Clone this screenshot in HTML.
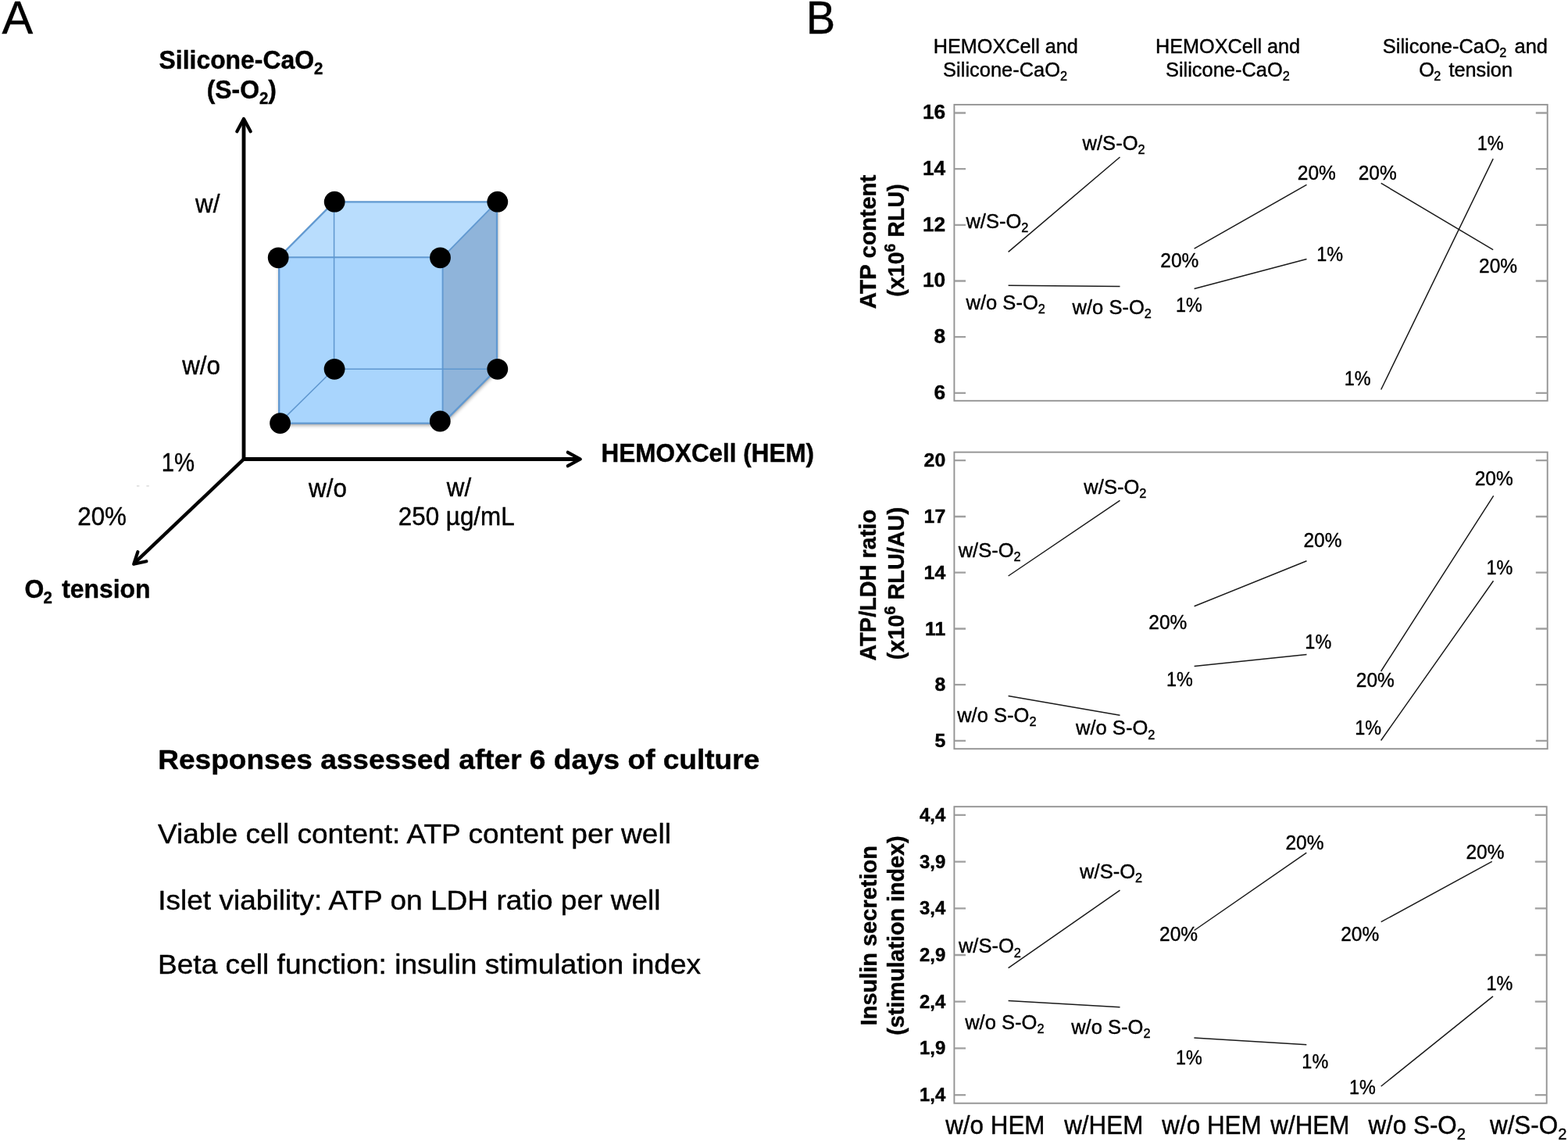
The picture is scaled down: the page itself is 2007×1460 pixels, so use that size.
<!DOCTYPE html>
<html lang="en"><head><meta charset="utf-8"><title>Figure</title>
<style>
html,body{margin:0;padding:0;background:#fff;}
body{width:2007px;height:1460px;overflow:hidden;}
svg{display:block;font-family:"Liberation Sans",sans-serif;fill:#000;}
text{white-space:pre;stroke:#000;stroke-width:0.42px;stroke-linejoin:round;}
.fr{fill:none;stroke:#939393;stroke-width:1.9;}
.tk{stroke:#a0a0a0;stroke-width:2.3;fill:none;}
.dl{stroke:#1a1a1a;stroke-width:1.5;fill:none;stroke-linecap:butt;}
.ax{stroke:#000;stroke-width:4.8;fill:none;stroke-linejoin:miter;stroke-linecap:butt;}
.ah{stroke:#000;stroke-width:4.2;fill:none;stroke-linejoin:round;stroke-linecap:round;}
.ce{stroke:#6199d1;stroke-width:2.3;fill:none;stroke-linejoin:round;}
.tl{font-weight:bold;font-size:26.3px;text-anchor:end;}
.yl{font-weight:bold;font-size:29px;text-anchor:middle;}
</style></head><body>
<svg width="2007" height="1460" viewBox="0 0 2007 1460" xml:space="preserve">
<defs>
<filter id="sh" x="-20%" y="-20%" width="140%" height="140%"><feGaussianBlur stdDeviation="2.6"/></filter>
</defs>
<rect x="0" y="0" width="2007" height="1460" fill="#fff"/>

<g id="cube">
<polygon points="357.8,331.7 428.2,261.1 636.6,261.1 636.6,474.8 567.2,544.1 357.8,544.1" fill="#000" opacity="0.42" filter="url(#sh)"/>
<polygon points="357.2,329.2 427.6,258.4 636.0,258.4 566.6,329.2" fill="#b9ddfd"/>
<polygon points="357.2,329.2 566.6,329.2 566.6,541.6 357.2,541.6" fill="#a9d5fd"/>
<polygon points="566.6,329.2 636.0,258.4 636.0,472.3 566.6,541.6" fill="#8fb4da"/>
<path class="ce" d="M357.2,329.2 L427.6,258.4 L636.0,258.4 L636.0,472.3 L566.6,541.6 L357.2,541.6 Z"/>
<path class="ce" style="stroke-width:1.9" d="M357.2,329.2 L566.6,329.2 L566.6,541.6 M566.6,329.2 L636.0,258.4"/>
<path class="ce" style="stroke-width:1.5;stroke:#5f97cf" d="M427.6,258.4 L427.6,472.3 L636.0,472.3 M427.6,472.3 L357.2,541.6"/>
<circle cx="428.2" cy="258.2" r="13.4" fill="#000"/>
<circle cx="636.8" cy="258.2" r="13.4" fill="#000"/>
<circle cx="356.2" cy="329.8" r="13.4" fill="#000"/>
<circle cx="563.5" cy="329.8" r="13.4" fill="#000"/>
<circle cx="428.1" cy="472.3" r="13.4" fill="#000"/>
<circle cx="636.8" cy="472.3" r="13.4" fill="#000"/>
<circle cx="358.6" cy="541.6" r="13.4" fill="#000"/>
<circle cx="563.3" cy="539.0" r="13.4" fill="#000"/>
</g>
<g id="axes">
<path class="ax" d="M312,153 L312,587.5 L742,587.5"/>
<path class="ax" style="stroke-width:4.4" d="M312.4,587.2 L172.5,720.2"/>
<path d="M175,621.9 h3.4 M187.4,621.9 h3.4" stroke="#d4d4d4" stroke-width="1.2" fill="none"/>
<path class="ah" d="M303.3,168.2 L312,152 L320.7,168.2"/>
<path class="ah" d="M726.8,578.8 L742.8,587.5 L726.8,596.2"/>
<path class="ah" d="M176.4,706.2 L171.2,721.8 L187.4,718.2"/>
</g>
<rect class="fr" x="1221.4" y="133.89999999999998" width="759.3" height="378.9"/>
<path class="tk" d="M1222,144.5 h14 M1980.4,144.5 h-14.6 M1222,216.2 h14 M1980.4,216.2 h-14.6 M1222,287.8 h14 M1980.4,287.8 h-14.6 M1222,359.5 h14 M1980.4,359.5 h-14.6 M1222,431.1 h14 M1980.4,431.1 h-14.6 M1222,502.8 h14 M1980.4,502.8 h-14.6 "/>
<text class="tl" style="font-size:26.3px" x="1210.2" y="152.4">16</text>
<text class="tl" style="font-size:26.3px" x="1210.2" y="224.1">14</text>
<text class="tl" style="font-size:26.3px" x="1210.2" y="295.7">12</text>
<text class="tl" style="font-size:26.3px" x="1210.2" y="367.4">10</text>
<text class="tl" style="font-size:26.3px" x="1210.2" y="439.0">8</text>
<text class="tl" style="font-size:26.3px" x="1210.2" y="510.7">6</text>
<rect class="fr" x="1221.4" y="578.6" width="759.3" height="379.6"/>
<path class="tk" d="M1222,589.2 h14 M1980.4,589.2 h-14.6 M1222,661.0 h14 M1980.4,661.0 h-14.6 M1222,732.7 h14 M1980.4,732.7 h-14.6 M1222,804.5 h14 M1980.4,804.5 h-14.6 M1222,876.2 h14 M1980.4,876.2 h-14.6 M1222,947.9 h14 M1980.4,947.9 h-14.6 "/>
<text class="tl" style="font-size:24.8px" x="1210.2" y="597.4">20</text>
<text class="tl" style="font-size:24.8px" x="1210.2" y="669.1">17</text>
<text class="tl" style="font-size:24.8px" x="1210.2" y="740.8">14</text>
<text class="tl" style="font-size:24.8px" x="1210.2" y="812.6">11</text>
<text class="tl" style="font-size:24.8px" x="1210.2" y="884.3">8</text>
<text class="tl" style="font-size:24.8px" x="1210.2" y="956.0">5</text>
<rect class="fr" x="1221.4" y="1032.2" width="758.3" height="379.5"/>
<path class="tk" d="M1222,1042.9 h14 M1979.4,1042.9 h-14.6 M1222,1102.6 h14 M1979.4,1102.6 h-14.6 M1222,1162.3 h14 M1979.4,1162.3 h-14.6 M1222,1222.0 h14 M1979.4,1222.0 h-14.6 M1222,1281.7 h14 M1979.4,1281.7 h-14.6 M1222,1341.4 h14 M1979.4,1341.4 h-14.6 M1222,1401.1 h14 M1979.4,1401.1 h-14.6 "/>
<text class="tl" style="font-size:23.9px" x="1210.2" y="1050.9">4,4</text>
<text class="tl" style="font-size:23.9px" x="1210.2" y="1110.6">3,9</text>
<text class="tl" style="font-size:23.9px" x="1210.2" y="1170.3">3,4</text>
<text class="tl" style="font-size:23.9px" x="1210.2" y="1230.0">2,9</text>
<text class="tl" style="font-size:23.9px" x="1210.2" y="1289.7">2,4</text>
<text class="tl" style="font-size:23.9px" x="1210.2" y="1349.4">1,9</text>
<text class="tl" style="font-size:23.9px" x="1210.2" y="1409.1">1,4</text>
<path class="dl" d="M1290.6,322.4 L1433.5,201.0 M1290.6,365.2 L1433.5,366.5 M1528.6,318.2 L1672.5,236.4 M1528.6,369.4 L1672.5,331.6 M1767.7,234.4 L1911.2,319.7 M1767.7,498.5 L1911.2,203.2 M1290.6,737.0 L1433.5,640.3 M1290.6,890.4 L1433.5,915.2 M1528.6,775.8 L1672.5,717.7 M1528.6,852.4 L1672.5,837.5 M1767.6,859.0 L1911.7,634.3 M1767.6,947.5 L1911.5,743.3 M1290.6,1238.6 L1433.5,1139.2 M1290.6,1280.5 L1433.5,1288.8 M1528.6,1190.5 L1672.3,1091.1 M1528.4,1328.0 L1672.3,1336.7 M1767.7,1179.7 L1909.7,1102.4 M1767.7,1390.0 L1911.0,1274.8 "/>
<g transform="translate(1121.0,395.2) rotate(-90) scale(0.9936,1)"><text x="0.00" y="0.00" font-size="29.80" font-weight="bold" >ATP content</text></g>
<g transform="translate(1156.6,378.7) rotate(-90) scale(0.9601,1)"><text x="-1.00" y="0.00" font-size="29.80" font-weight="bold" >(x10<tspan font-size="20.26" dy="-10.73">6</tspan><tspan dy="10.73"> RLU)</tspan></text></g>
<g transform="translate(1121.0,845.5) rotate(-90) scale(0.9698,1)"><text x="0.00" y="0.00" font-size="29.80" font-weight="bold" >ATP/LDH ratio</text></g>
<g transform="translate(1156.6,843.3) rotate(-90) scale(0.9688,1)"><text x="-1.00" y="0.00" font-size="29.80" font-weight="bold" >(x10<tspan font-size="20.26" dy="-10.73">6</tspan><tspan dy="10.73"> RLU/AU)</tspan></text></g>
<g transform="translate(1122.0,1311.3) rotate(-90) scale(0.9726,1)"><text x="-1.00" y="0.00" font-size="29.80" font-weight="bold" >Insulin secretion</text></g>
<g transform="translate(1156.6,1323.8) rotate(-90) scale(0.9646,1)"><text x="-1.00" y="0.00" font-size="29.80" font-weight="bold" >(stimulation index)</text></g>
<text x="2.58" y="43.00" font-size="59.60" font-weight="normal" >A</text>
<text x="0.00" y="43.00" font-size="59.60" font-weight="normal" transform="translate(1031.64,0) scale(0.94,1)">B</text>
<text x="0.00" y="88.50" font-size="33.06" font-weight="bold" transform="translate(203.55,0) scale(0.9650,1)">Silicone-CaO<tspan font-size="21.16" dy="6.61">2</tspan></text>
<text x="0.00" y="126.40" font-size="33.06" font-weight="bold" transform="translate(264.64,0) scale(0.9650,1)">(S-O<tspan font-size="21.16" dy="6.61">2</tspan><tspan dy="-6.61">)</tspan></text>
<text x="0.00" y="591.00" font-size="32.59" font-weight="bold" transform="translate(769.60,0) scale(0.9650,1)">HEMOXCell (HEM)</text>
<text x="0.00" y="765.20" font-size="33.06" font-weight="bold" transform="translate(31.62,0) scale(0.9650,1)">O<tspan font-size="21.16" dy="6.61" dx="-0.99">2</tspan><tspan dy="-6.61" dx="3.64"> tension</tspan></text>
<text x="0.00" y="272.00" font-size="32.30" font-weight="normal" transform="translate(250.10,0) scale(0.9720,1)">w/</text>
<text x="0.00" y="478.80" font-size="32.30" font-weight="normal" transform="translate(233.14,0) scale(0.9720,1)">w/o</text>
<text x="0.00" y="602.70" font-size="32.30" font-weight="normal" transform="translate(206.71,0) scale(0.9088,1)">1%</text>
<text x="0.00" y="671.60" font-size="32.30" font-weight="normal" transform="translate(99.19,0) scale(0.9720,1)">20%</text>
<text x="0.00" y="636.00" font-size="32.30" font-weight="normal" transform="translate(394.99,0) scale(0.9720,1)">w/o</text>
<text x="0.00" y="634.70" font-size="32.30" font-weight="normal" transform="translate(571.80,0) scale(0.9720,1)">w/</text>
<text x="0.00" y="672.10" font-size="32.30" font-weight="normal" transform="translate(509.72,0) scale(0.9720,1)">250 µg/mL</text>
<text x="0.00" y="984.10" font-size="35.23" font-weight="bold" transform="translate(202.21,0) scale(1.0520,1)">Responses assessed after 6 days of culture</text>
<text x="0.00" y="1079.20" font-size="35.06" font-weight="normal" transform="translate(201.97,0) scale(1.0570,1)">Viable cell content: ATP content per well</text>
<text x="0.00" y="1164.00" font-size="35.07" font-weight="normal" transform="translate(202.16,0) scale(1.0570,1)">Islet viability: ATP on LDH ratio per well</text>
<text x="0.00" y="1245.80" font-size="35.13" font-weight="normal" transform="translate(201.93,0) scale(1.0570,1)">Beta cell function: insulin stimulation index</text>
<text x="0.00" y="67.80" font-size="25.71" font-weight="normal" transform="translate(1194.76,0) scale(0.9820,1)">HEMOXCell and</text>
<text x="0.00" y="97.80" font-size="25.92" font-weight="normal" transform="translate(1207.11,0) scale(0.9820,1)">Silicone-CaO<tspan font-size="16.59" dy="5.18">2</tspan></text>
<text x="0.00" y="67.80" font-size="25.71" font-weight="normal" transform="translate(1479.01,0) scale(0.9820,1)">HEMOXCell and</text>
<text x="0.00" y="97.80" font-size="25.92" font-weight="normal" transform="translate(1491.91,0) scale(0.9820,1)">Silicone-CaO<tspan font-size="16.59" dy="5.18">2</tspan></text>
<text x="0.00" y="67.80" font-size="25.92" font-weight="normal" transform="translate(1769.84,0) scale(0.9820,1)">Silicone-CaO<tspan font-size="16.59" dy="5.18" dx="-0.52">2</tspan><tspan dy="-5.18" dx="3.24"> and</tspan></text>
<text x="0.00" y="97.80" font-size="25.76" font-weight="normal" transform="translate(1816.34,0) scale(0.9820,1)">O<tspan font-size="16.49" dy="5.15" dx="-0.77">2</tspan><tspan dy="-5.15" dx="3.22"> tension</tspan></text>
<text x="0.00" y="1451.20" font-size="32.44" font-weight="normal" transform="translate(1210.17,0) scale(0.9680,1)">w/o HEM</text>
<text x="0.00" y="1451.20" font-size="32.44" font-weight="normal" transform="translate(1362.20,0) scale(0.9680,1)">w/HEM</text>
<text x="0.00" y="1451.20" font-size="32.44" font-weight="normal" transform="translate(1487.32,0) scale(0.9680,1)">w/o HEM</text>
<text x="0.00" y="1451.20" font-size="32.44" font-weight="normal" transform="translate(1626.30,0) scale(0.9680,1)">w/HEM</text>
<text x="0.00" y="1451.20" font-size="32.44" font-weight="normal" transform="translate(1751.39,0) scale(0.9680,1)">w/o S-O<tspan font-size="20.76" dy="6.49">2</tspan></text>
<text x="0.00" y="1451.20" font-size="32.44" font-weight="normal" transform="translate(1906.98,0) scale(0.9680,1)">w/S-O<tspan font-size="20.76" dy="6.49">2</tspan></text>
<text x="0.00" y="192.10" font-size="26.21" font-weight="normal" transform="translate(1385.55,0) scale(0.9750,1)">w/S-O<tspan font-size="16.77" dy="5.24">2</tspan></text>
<text x="0.00" y="291.90" font-size="26.21" font-weight="normal" transform="translate(1236.40,0) scale(0.9750,1)">w/S-O<tspan font-size="16.77" dy="5.24">2</tspan></text>
<text x="0.00" y="395.70" font-size="26.21" font-weight="normal" transform="translate(1236.52,0) scale(0.9750,1)">w/o S-O<tspan font-size="16.77" dy="5.24">2</tspan></text>
<text x="0.00" y="402.00" font-size="26.21" font-weight="normal" transform="translate(1372.57,0) scale(0.9750,1)">w/o S-O<tspan font-size="16.77" dy="5.24">2</tspan></text>
<text x="0.00" y="341.90" font-size="26.01" font-weight="normal" transform="translate(1485.36,0) scale(0.9420,1)">20%</text>
<text x="0.00" y="398.90" font-size="26.00" font-weight="normal" transform="translate(1504.97,0) scale(0.9000,1)">1%</text>
<text x="0.00" y="229.80" font-size="26.01" font-weight="normal" transform="translate(1660.76,0) scale(0.9420,1)">20%</text>
<text x="0.00" y="333.80" font-size="26.00" font-weight="normal" transform="translate(1685.27,0) scale(0.9000,1)">1%</text>
<text x="0.00" y="229.80" font-size="26.01" font-weight="normal" transform="translate(1738.71,0) scale(0.9420,1)">20%</text>
<text x="0.00" y="493.00" font-size="26.00" font-weight="normal" transform="translate(1720.67,0) scale(0.9000,1)">1%</text>
<text x="0.00" y="192.30" font-size="26.00" font-weight="normal" transform="translate(1890.77,0) scale(0.9000,1)">1%</text>
<text x="0.00" y="348.70" font-size="26.01" font-weight="normal" transform="translate(1893.11,0) scale(0.9420,1)">20%</text>
<text x="0.00" y="632.20" font-size="26.21" font-weight="normal" transform="translate(1387.35,0) scale(0.9750,1)">w/S-O<tspan font-size="16.77" dy="5.24">2</tspan></text>
<text x="0.00" y="713.20" font-size="26.21" font-weight="normal" transform="translate(1226.65,0) scale(0.9750,1)">w/S-O<tspan font-size="16.77" dy="5.24">2</tspan></text>
<text x="0.00" y="923.70" font-size="26.21" font-weight="normal" transform="translate(1225.17,0) scale(0.9750,1)">w/o S-O<tspan font-size="16.77" dy="5.24">2</tspan></text>
<text x="0.00" y="940.40" font-size="26.21" font-weight="normal" transform="translate(1377.02,0) scale(0.9750,1)">w/o S-O<tspan font-size="16.77" dy="5.24">2</tspan></text>
<text x="0.00" y="804.90" font-size="26.01" font-weight="normal" transform="translate(1470.31,0) scale(0.9420,1)">20%</text>
<text x="0.00" y="878.40" font-size="26.00" font-weight="normal" transform="translate(1492.97,0) scale(0.9000,1)">1%</text>
<text x="0.00" y="700.50" font-size="26.01" font-weight="normal" transform="translate(1668.46,0) scale(0.9420,1)">20%</text>
<text x="0.00" y="829.90" font-size="26.00" font-weight="normal" transform="translate(1670.37,0) scale(0.9000,1)">1%</text>
<text x="0.00" y="878.70" font-size="26.01" font-weight="normal" transform="translate(1735.76,0) scale(0.9420,1)">20%</text>
<text x="0.00" y="940.40" font-size="26.00" font-weight="normal" transform="translate(1734.27,0) scale(0.9000,1)">1%</text>
<text x="0.00" y="621.50" font-size="26.01" font-weight="normal" transform="translate(1887.71,0) scale(0.9420,1)">20%</text>
<text x="0.00" y="734.90" font-size="26.00" font-weight="normal" transform="translate(1902.47,0) scale(0.9000,1)">1%</text>
<text x="0.00" y="1123.60" font-size="26.21" font-weight="normal" transform="translate(1382.10,0) scale(0.9750,1)">w/S-O<tspan font-size="16.77" dy="5.24">2</tspan></text>
<text x="0.00" y="1219.30" font-size="26.21" font-weight="normal" transform="translate(1226.90,0) scale(0.9750,1)">w/S-O<tspan font-size="16.77" dy="5.24">2</tspan></text>
<text x="0.00" y="1316.60" font-size="26.21" font-weight="normal" transform="translate(1235.17,0) scale(0.9750,1)">w/o S-O<tspan font-size="16.77" dy="5.24">2</tspan></text>
<text x="0.00" y="1322.80" font-size="26.21" font-weight="normal" transform="translate(1371.17,0) scale(0.9750,1)">w/o S-O<tspan font-size="16.77" dy="5.24">2</tspan></text>
<text x="0.00" y="1203.70" font-size="26.01" font-weight="normal" transform="translate(1484.01,0) scale(0.9420,1)">20%</text>
<text x="0.00" y="1362.30" font-size="26.00" font-weight="normal" transform="translate(1505.07,0) scale(0.9000,1)">1%</text>
<text x="0.00" y="1087.30" font-size="26.01" font-weight="normal" transform="translate(1645.46,0) scale(0.9420,1)">20%</text>
<text x="0.00" y="1366.90" font-size="26.00" font-weight="normal" transform="translate(1666.37,0) scale(0.9000,1)">1%</text>
<text x="0.00" y="1203.70" font-size="26.01" font-weight="normal" transform="translate(1716.16,0) scale(0.9420,1)">20%</text>
<text x="0.00" y="1400.30" font-size="26.00" font-weight="normal" transform="translate(1726.97,0) scale(0.9000,1)">1%</text>
<text x="0.00" y="1099.00" font-size="26.01" font-weight="normal" transform="translate(1876.41,0) scale(0.9420,1)">20%</text>
<text x="0.00" y="1266.70" font-size="26.00" font-weight="normal" transform="translate(1902.47,0) scale(0.9000,1)">1%</text>
</svg>
</body></html>
